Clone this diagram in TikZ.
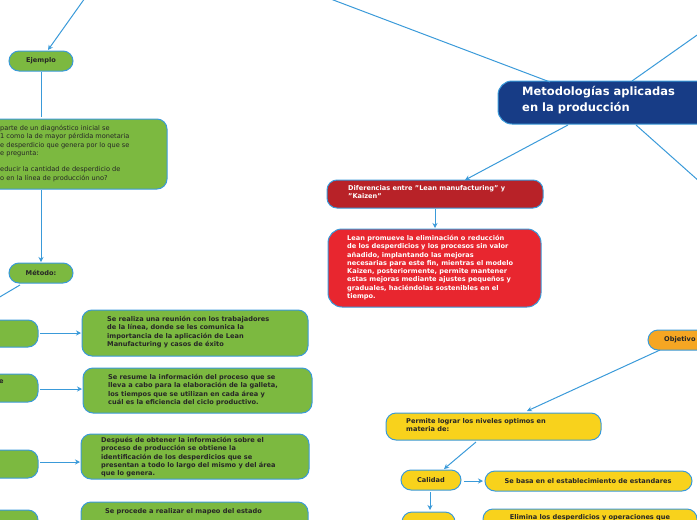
\documentclass[tikz,border=0pt]{standalone}
\usepackage{fontspec}
\setmainfont{DejaVu Sans}
\usetikzlibrary{arrows.meta}
\definecolor{gr}{HTML}{7CB940}
\definecolor{bl}{HTML}{3A9AD9}
\definecolor{nv}{HTML}{173C86}
\definecolor{dr}{HTML}{B82228}
\definecolor{rd}{HTML}{E8262F}
\definecolor{og}{HTML}{F5A623}
\definecolor{ye}{HTML}{F8D21C}
\tikzset{
 box/.style={draw=bl,line width=1pt,rounded corners=10pt,inner sep=0pt},
 lbl/.style={font=\bfseries\fontsize{6.6}{8.3}\selectfont,text=black!85},
 txt/.style={lbl,align=left,anchor=north west,inner sep=0pt},
 wtxt/.style={txt,text=white},
 con/.style={draw=bl,line width=1pt},
 arr/.style={con,-{Stealth[length=5pt,width=5pt]}}
}
\begin{document}
\begin{tikzpicture}[x=1pt,y=-1pt]
\useasboundingbox (0,0) rectangle (697,520);
\clip (0,0) rectangle (697,520);
\coordinate (t1) at (85,-2);
\coordinate (t2) at (328,-2);
\coordinate (t3) at (700,33);
\coordinate (t4) at (700,182);
\coordinate (m1) at (-2,298);
% green column
\draw[box,fill=gr] (9,51) rectangle (73,71); \node[lbl] (ej) at (41,61) {Ejemplo};
\draw[box,fill=gr] (-40,119) rectangle (167,189);
\node[txt,font=\fontsize{6.6}{8.3}\selectfont] (ejt) at (0,125) {parte de un diagnóstico inicial se\\ 1 como la de mayor pérdida monetaria\\e desperdicio que genera por lo que se\\e pregunta:\\[8.3pt]educir la cantidad de desperdicio de\\o en la línea de producción uno?};
\draw[box,fill=gr] (9,263) rectangle (73,283); \node[lbl] (me) at (41,273) {Método:};
\draw[box,fill=gr] (-40,320) rectangle (38,347);
\draw[box,fill=gr] (-40,374) rectangle (38,402); \node[txt] at (-1,380) {e};
\draw[box,fill=gr] (-40,450) rectangle (38,478);
\draw[box,fill=gr] (-40,510) rectangle (38,540);
\draw[box,fill=gr] (82,310) rectangle (308,356);
\node[txt] (g1) at (107,316) {Se realiza una reunión con los trabajadores\\de la línea, donde se les comunica la\\importancia de la aplicación de Lean\\Manufacturing y casos de éxito};
\draw[box,fill=gr] (83,368) rectangle (312,413);
\node[txt] (g2) at (108,374) {Se resume la información del proceso que se\\lleva a cabo para la elaboración de la galleta,\\los tiempos que se utilizan en cada área y\\cuál es la eficiencia del ciclo productivo.};
\draw[box,fill=gr] (81,434) rectangle (309,479);
\node[txt] (g3) at (101,437) {Después de obtener la información sobre el\\proceso de producción se obtiene la\\identificación de los desperdicios que se\\presentan a todo lo largo del mismo y del área\\que lo genera.};
\draw[box,fill=gr] (81,502) rectangle (308,560);
\node[txt] (g4) at (105,508) {Se procede a realizar el mapeo del estado};
\draw[arr] (t1) -- (48,50);
\draw[con] (41,72) -- (41,117);
\draw[arr] (41,190) -- (41,262);
\draw[con] (20,285) -- (m1);
\draw[arr] (40,333) -- (81,333);
\draw[arr] (40,389) -- (82,389);
\draw[arr] (40,462) -- (80,462);
% central
\draw[box,fill=nv,rounded corners=14pt] (498,81) rectangle (740,124);
\node[anchor=north west,inner sep=0pt,text=white,font=\bfseries\fontsize{11.5}{16}\selectfont,align=left] (c) at (522,86) {Metodologías aplicadas\\en la producción};
\draw[con] (t2) -- (550,82);
\draw[con] (632,81) -- (t3);
\draw[con] (636,125) -- (t4);
\draw[arr] (568,125) -- (465,180);
\draw[box,fill=dr] (327,180) rectangle (543,208);
\node[wtxt] (d) at (348,185) {Diferencias entre "Lean manufacturing" y\\"Kaizen"};
\draw[arr] (435,209) -- (435,228);
\draw[box,fill=rd,rounded corners=14pt] (328,229) rectangle (541,307);
\node[wtxt] (r) at (347,235) {Lean promueve la eliminación o reducción\\de los desperdicios y los procesos sin valor\\añadido, implantando las mejoras\\necesarias para este fin, mientras el modelo\\Kaizen, posteriormente, permite mantener\\estas mejoras mediante ajustes pequeños y\\graduales, haciéndolas sostenibles en el\\tiempo.};
% yellow branch
\draw[box,fill=og] (648,330) rectangle (740,350); \node[txt,anchor=west] (o) at (664,340) {Objetivo};
\draw[arr] (660,350) -- (527,411);
\draw[box,fill=ye] (386,413) rectangle (601,440);
\node[txt] (p) at (406,418) {Permite lograr los niveles optimos en\\materia de:};
\draw[arr] (476,442) -- (444,469);
\draw[box,fill=ye] (401,470) rectangle (461,490); \node[lbl] (ca) at (431,480) {Calidad};
\draw[arr] (464,481) -- (483,481);
\draw[box,fill=ye] (485,471) rectangle (692,491); \node[lbl] (es) at (588,481) {Se basa en el establecimiento de estandares};
\draw[arr] (430,492) -- (430,510);
\draw[box,fill=ye] (402,512) rectangle (455,540);
\draw[box,fill=ye] (483,509) rectangle (697,550);
\node[lbl] (el) at (590,518) {Elimina los desperdicios y operaciones que};
\end{tikzpicture}
\end{document}
